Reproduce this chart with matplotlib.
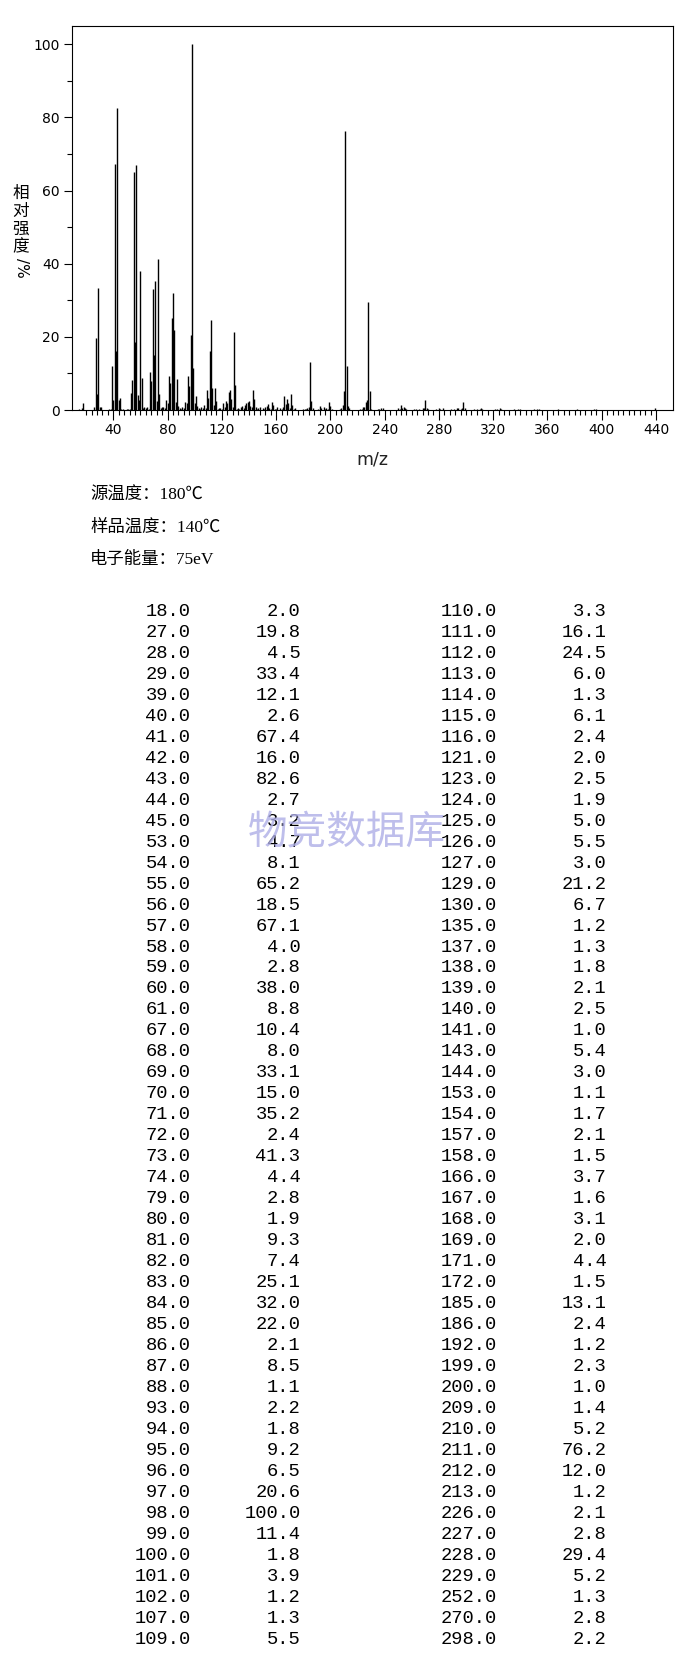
"""Mass spectrum (EI, 75 eV) with peak table, rebuilt from the reference picture."""

import matplotlib

matplotlib.use("Agg")
import matplotlib.pyplot as plt
from matplotlib.ticker import FixedLocator, MultipleLocator

# peaks listed in the table: m/z and relative intensity (%)
TABLE_MZ = [
    18, 27, 28, 29, 39, 40, 41, 42, 43, 44,
    45, 53, 54, 55, 56, 57, 58, 59, 60, 61,
    67, 68, 69, 70, 71, 72, 73, 74, 79, 80,
    81, 82, 83, 84, 85, 86, 87, 88, 93, 94,
    95, 96, 97, 98, 99, 100, 101, 102, 107, 109,
    110, 111, 112, 113, 114, 115, 116, 121, 123, 124,
    125, 126, 127, 129, 130, 135, 137, 138, 139, 140,
    141, 143, 144, 153, 154, 157, 158, 166, 167, 168,
    169, 171, 172, 185, 186, 192, 199, 200, 209, 210,
    211, 212, 213, 226, 227, 228, 229, 252, 270, 298,
]
TABLE_INT = [
    2.0, 19.8, 4.5, 33.4, 12.1, 2.6, 67.4, 16.0, 82.6, 2.7,
    3.2, 4.7, 8.1, 65.2, 18.5, 67.1, 4.0, 2.8, 38.0, 8.8,
    10.4, 8.0, 33.1, 15.0, 35.2, 2.4, 41.3, 4.4, 2.8, 1.9,
    9.3, 7.4, 25.1, 32.0, 22.0, 2.1, 8.5, 1.1, 2.2, 1.8,
    9.2, 6.5, 20.6, 100.0, 11.4, 1.8, 3.9, 1.2, 1.3, 5.5,
    3.3, 16.1, 24.5, 6.0, 1.3, 6.1, 2.4, 2.0, 2.5, 1.9,
    5.0, 5.5, 3.0, 21.2, 6.7, 1.2, 1.3, 1.8, 2.1, 2.5,
    1.0, 5.4, 3.0, 1.1, 1.7, 2.1, 1.5, 3.7, 1.6, 3.1,
    2.0, 4.4, 1.5, 13.1, 2.4, 1.2, 2.3, 1.0, 1.4, 5.2,
    76.2, 12.0, 1.2, 2.1, 2.8, 29.4, 5.2, 1.3, 2.8, 2.2,
]

# small peaks under 1 % that show in the spectrum but not in the table
MINOR_MZ = [
    15, 17, 26, 30, 31, 37, 38, 46, 47, 50, 51, 52, 62, 63, 64, 65, 66,
    75, 76, 77, 78, 89, 90, 91, 92, 103, 104, 105, 106, 108, 117, 118,
    119, 120, 122, 128, 131, 132, 133, 134, 136, 142, 145, 146, 147, 148,
    150, 151, 152, 155, 156, 159, 160, 161, 163, 164, 165, 170, 173, 174,
    180, 181, 182, 183, 184, 187, 191, 193, 195, 196, 197, 198, 201, 207,
    208, 214, 222, 223, 224, 225, 230, 235, 236, 237, 239, 250, 251, 253,
    254, 255, 256, 262, 263, 265, 268, 269, 271, 272, 278, 280, 281, 283,
    289, 291, 293, 294, 296, 297, 299, 306, 308, 310, 311, 312, 321, 323,
    325, 326, 335, 338, 340, 350, 352, 354, 368, 382, 394, 396, 439,
]
MINOR_INT = [
    0.4, 0.5, 0.8, 0.8, 0.7, 0.3, 0.3, 0.3, 0.3, 0.3, 0.4, 0.4, 0.6, 0.8, 0.5, 0.8, 0.4,
    0.5, 0.7, 0.9, 0.6, 0.5, 0.4, 0.8, 0.6, 0.6, 0.4, 0.7, 0.5, 0.6, 0.4, 0.5,
    0.6, 0.4, 0.8, 0.7, 0.4, 0.5, 0.4, 0.8, 0.6, 0.9, 0.7, 0.4, 0.6, 0.8,
    0.5, 0.4, 0.8, 0.5, 0.4, 0.4, 0.4, 0.7, 0.5, 0.3, 0.8, 0.6, 0.4, 0.5,
    0.4, 0.3, 0.4, 0.6, 0.8, 0.6, 0.4, 0.5, 0.8, 0.4, 0.5, 0.4, 0.4, 0.3,
    0.6, 0.6, 0.4, 0.4, 0.9, 0.9, 0.4, 0.3, 0.4, 0.5, 0.5, 0.5, 0.3, 0.6,
    0.8, 0.5, 0.4, 0.4, 0.4, 0.3, 0.5, 0.5, 0.5, 0.4, 0.3, 0.5, 0.4, 0.6,
    0.3, 0.4, 0.5, 0.5, 0.4, 0.6, 0.6, 0.3, 0.4, 0.3, 0.6, 0.4, 0.4, 0.3,
    0.6, 0.4, 0.3, 0.3, 0.3, 0.3, 0.4, 0.3, 0.3, 0.3, 0.3, 0.4, 0.5,
]

CONDITIONS = ["源温度：180℃", "样品温度：140℃", "电子能量：75eV"]
Y_LABEL_CHARS = ["相", "对", "强", "度"]
X_LABEL = "m/z"
WATERMARK = "物竞数据库"

W, H = 696, 1672
CJK = "Noto Sans CJK SC"


def fx(px: float) -> float:
    return px / W


def fy(py: float) -> float:
    return 1 - py / H


def draw_spectrum(fig: plt.Figure) -> None:
    ax = fig.add_axes([fx(72), fy(410), (673 - 72) / W, (410 - 26) / H])
    mz = TABLE_MZ + MINOR_MZ
    inten = TABLE_INT + MINOR_INT
    ax.vlines(mz, 0, inten, color="black", linewidth=1.0)

    ax.set_xlim(9.6, 452.5)
    ax.set_ylim(0, 105)
    ax.set_xticks(range(40, 441, 40))
    ax.xaxis.set_minor_locator(FixedLocator(list(range(20, 441, 4))))
    ax.set_yticks(range(0, 101, 20))
    ax.yaxis.set_minor_locator(MultipleLocator(10))

    ax.tick_params(axis="x", which="major", length=7, width=0.8, pad=2, labelsize=10)
    ax.tick_params(axis="x", which="minor", length=3.5, width=0.8)
    ax.tick_params(axis="y", which="major", length=6, width=0.8, pad=3, labelsize=10)
    ax.tick_params(axis="y", which="minor", length=3.5, width=0.8)
    for spine in ax.spines.values():
        spine.set_linewidth(0.8)

    # axis labels sit outside the axes, placed in figure pixels
    fig.text(fx(372), fy(460), X_LABEL, ha="center", va="center", fontsize=12.5,
             color="#222222")
    for i, ch in enumerate(Y_LABEL_CHARS):
        fig.text(fx(21), fy(193 + i * 18), ch, ha="center", va="center",
                 fontsize=12, family=CJK)
    fig.text(fx(21), fy(268), "/%", ha="center", va="center", rotation=270,
             fontsize=11, family=["DejaVu Sans"])


def draw_conditions(fig: plt.Figure) -> None:
    for i, line in enumerate(CONDITIONS):
        fig.text(fx(90), fy(496 + i * 32), line, ha="left", va="center",
                 fontsize=12.5, family=["Liberation Serif", CJK])


def draw_table(fig: plt.Figure) -> None:
    half = len(TABLE_MZ) // 2
    columns = [(190.5, 300.5, 0), (496.5, 606.5, half)]
    for mz_right, int_right, start in columns:
        for row in range(half):
            y = fy(611.5 + row * 20.97)
            k = start + row
            fig.text(fx(mz_right), y, f"{TABLE_MZ[k]:.1f}", ha="right", va="center",
                     fontsize=13.5, family="Liberation Mono")
            fig.text(fx(int_right), y, f"{TABLE_INT[k]:.1f}", ha="right", va="center",
                     fontsize=13.5, family="Liberation Mono")


def main() -> None:
    fig = plt.figure(figsize=(W / 100, H / 100), dpi=100)
    draw_spectrum(fig)
    draw_conditions(fig)
    draw_table(fig)
    fig.text(fx(347), fy(832), WATERMARK, ha="center", va="center", fontsize=28.5,
             color="#aeaee6", alpha=0.8, family=CJK, zorder=10)
    fig.savefig("out.png", dpi=100)


if __name__ == "__main__":
    main()
